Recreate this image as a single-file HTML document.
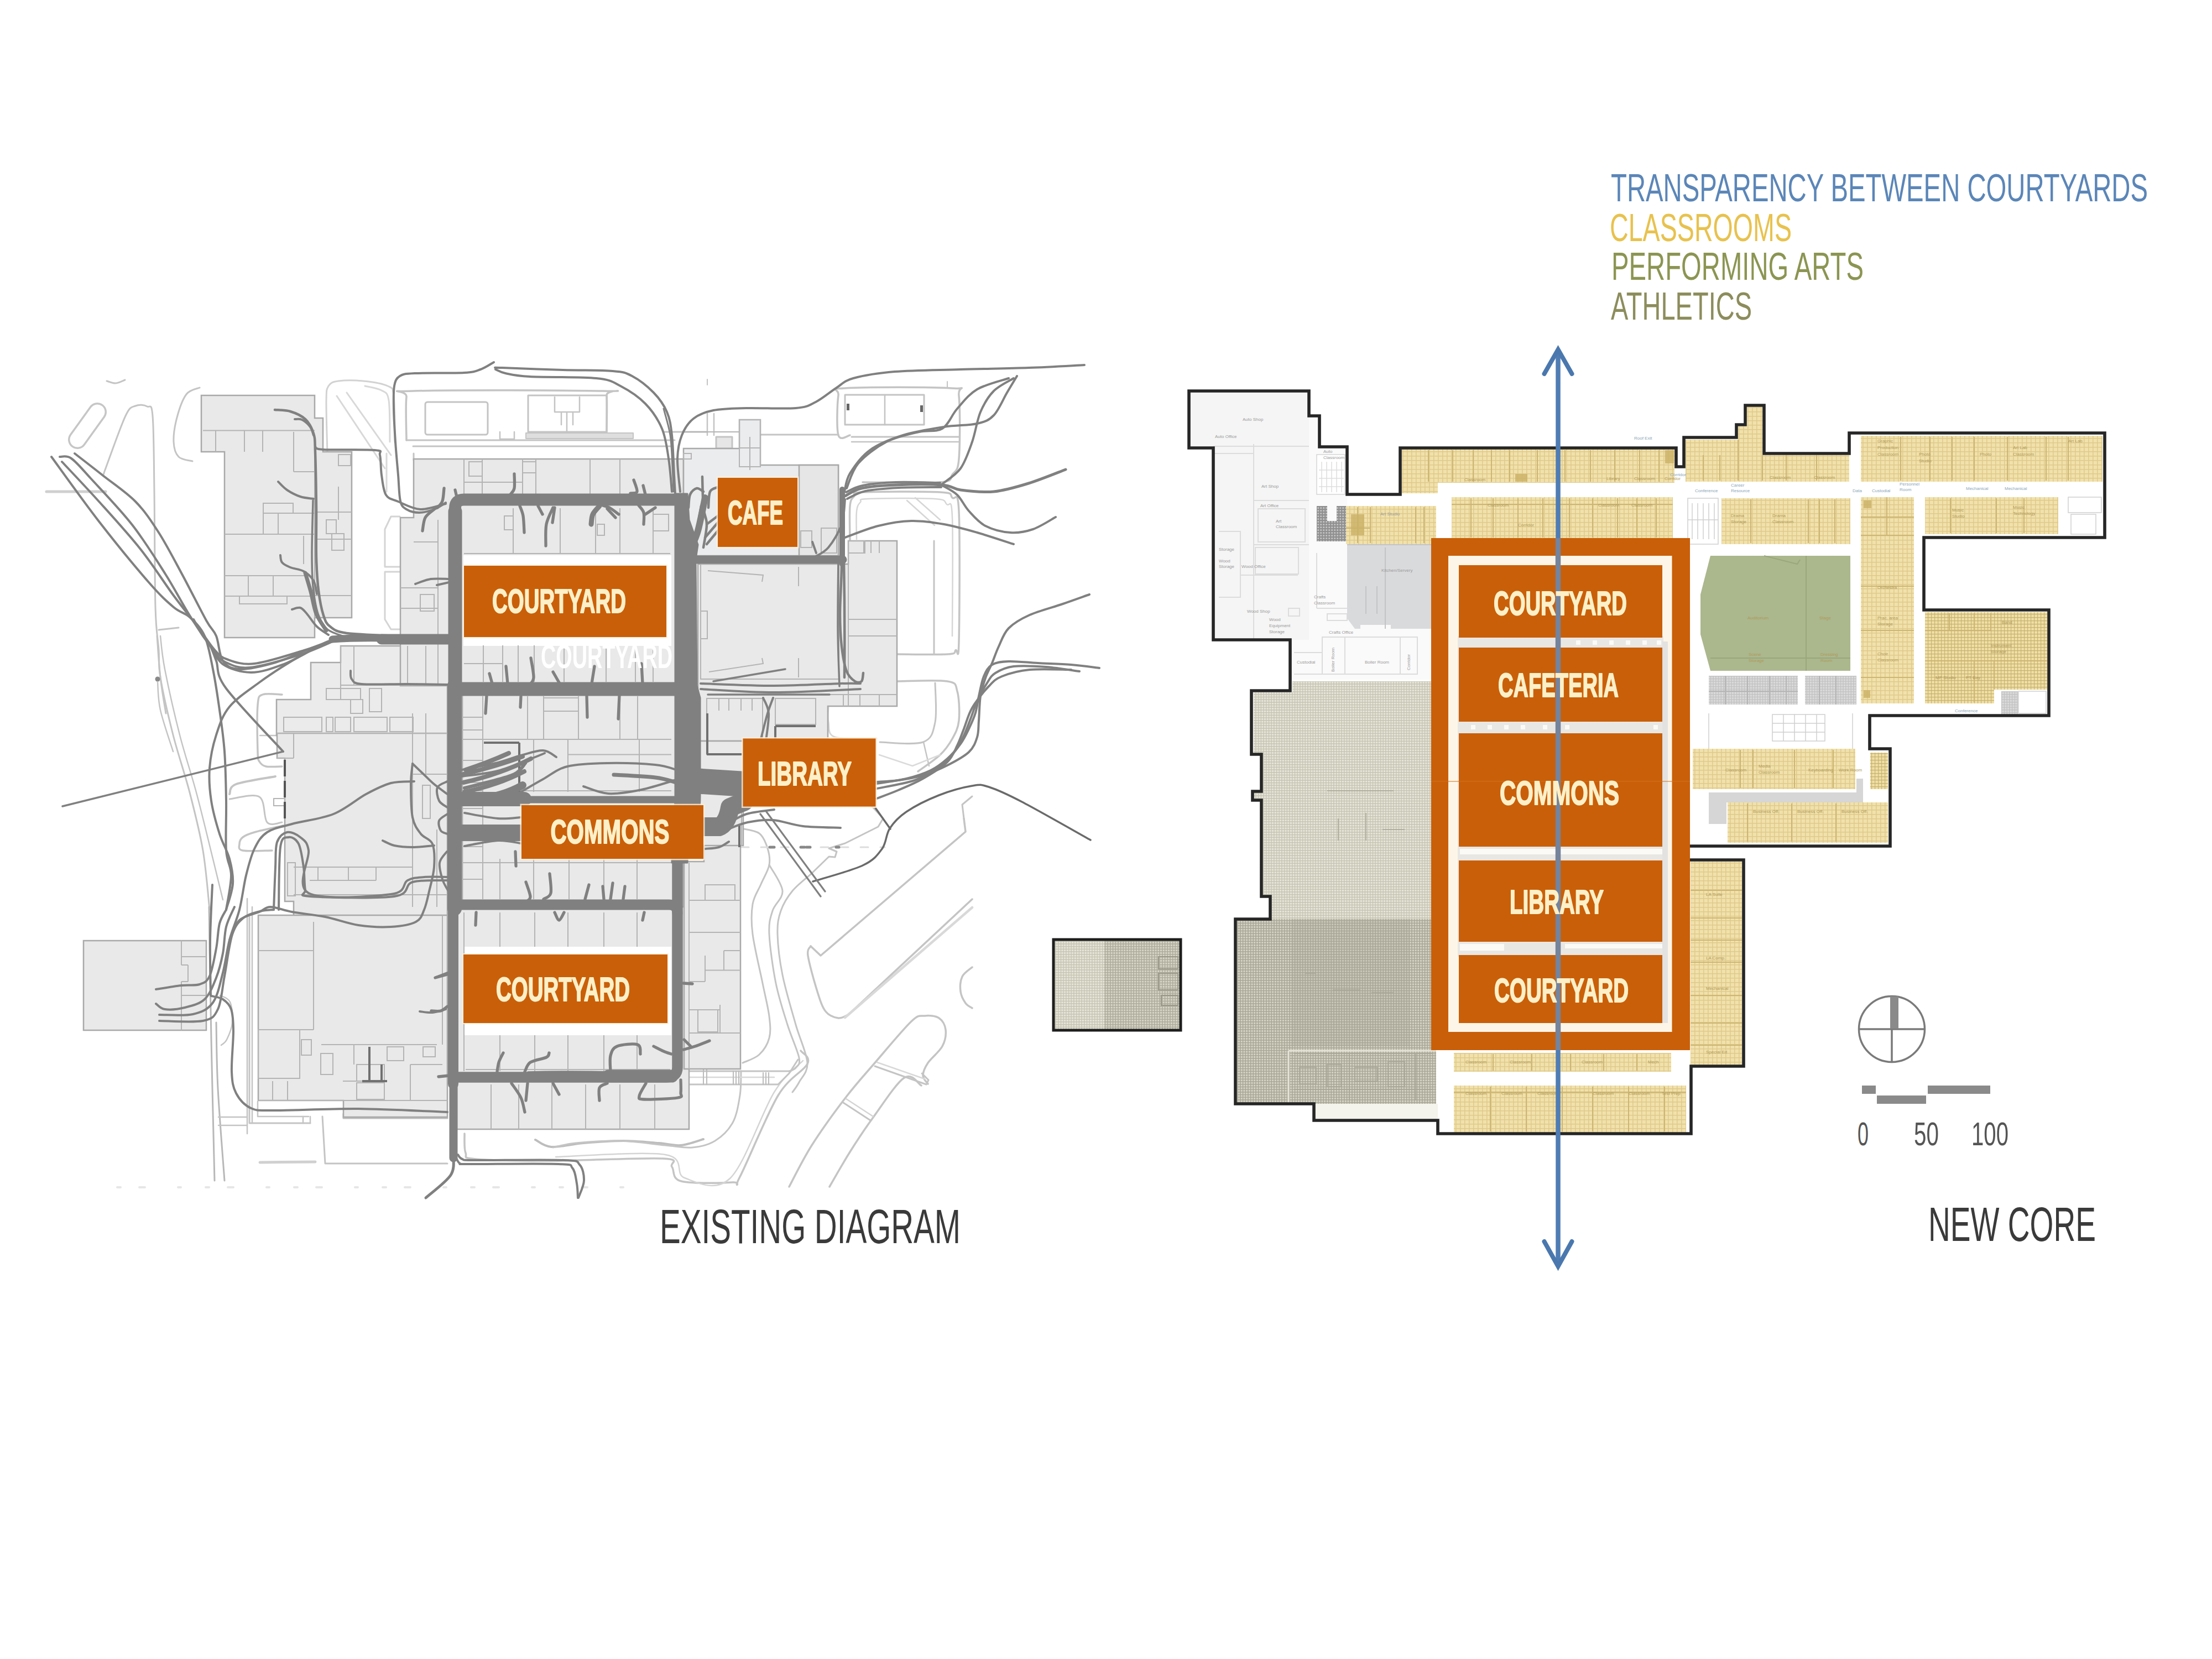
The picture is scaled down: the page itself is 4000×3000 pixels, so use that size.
<!DOCTYPE html>
<html lang="en">
<head>
<meta charset="utf-8">
<title>Existing Diagram / New Core</title>
<style>
html,body{margin:0;padding:0;background:#fff;}
body{width:4000px;height:3000px;overflow:hidden;font-family:"Liberation Sans",sans-serif;}
svg{display:block;position:absolute;left:0;top:0;}
text{font-family:"Liberation Sans",sans-serif;}
.lbl{font-weight:bold;fill:#fdf0c8;stroke:#fdf0c8;stroke-width:2;stroke-linejoin:round;}
.or{fill:#c95f09;}
.pth{fill:none;stroke:#808080;stroke-linecap:round;stroke-linejoin:round;}
.site{fill:none;stroke:#c4c4c4;stroke-width:3;stroke-linecap:round;stroke-linejoin:round;}
.bld{fill:#e9e9e9;stroke:#a9a9a9;stroke-width:2.5;stroke-linejoin:miter;}
.bl{fill:none;stroke:#b4b4b4;stroke-width:2;}
.yel{fill:url(#py);}
.out{fill:none;stroke:#262626;stroke-width:5.6;stroke-linejoin:miter;}
</style>
</head>
<body>
<svg width="4000" height="3000" viewBox="0 0 4000 3000">
<rect width="4000" height="3000" fill="#fff"/>

<defs>
<pattern id="py" width="8" height="8" patternUnits="userSpaceOnUse">
<rect width="8" height="8" fill="#f1e1ab"/>
<path d="M0 0.8H8M0.8 0V8" stroke="#dfca8c" stroke-width="1.5" fill="none"/>
</pattern>
<pattern id="py2" width="6" height="6" patternUnits="userSpaceOnUse">
<rect width="6" height="6" fill="#f0dea3"/>
<path d="M0 0.6H6M0.6 0V6" stroke="#c4b172" stroke-width="1.1" fill="none"/>
</pattern>
<pattern id="pb1" width="4.7" height="4.7" patternUnits="userSpaceOnUse">
<rect width="4.7" height="4.7" fill="#e8e7da"/>
<path d="M0 0.8H4.7M0.8 0V4.7" stroke="#c6c5b5" stroke-width="1.5" fill="none"/>
</pattern>
<pattern id="pb2" width="4.7" height="4.7" patternUnits="userSpaceOnUse">
<rect width="4.7" height="4.7" fill="#d8d6c6"/>
<path d="M0 0.9H4.7M0.9 0V4.7" stroke="#a9a797" stroke-width="1.7" fill="none"/>
</pattern>
<pattern id="pg" width="4.7" height="4.7" patternUnits="userSpaceOnUse">
<rect width="4.7" height="4.7" fill="#dcdcdc"/>
<path d="M0 0.8H4.7M0.8 0V4.7" stroke="#c2c2c2" stroke-width="1.4" fill="none"/>
</pattern>
<pattern id="pdk" width="5" height="5" patternUnits="userSpaceOnUse">
<rect width="5" height="5" fill="#c4c4c4"/>
<path d="M0 1.2H5M1.2 0V5" stroke="#8f8f8f" stroke-width="2.2" fill="none"/>
</pattern>
</defs>

<g id="left-site" class="site">
<path d="M140 795L176 745" stroke-width="34" stroke="#c6c6c6"/><path d="M140 795L176 745" stroke-width="27" stroke="#fff"/>
<path d="M188 856C188.5 854.5 184.5 864.3 191 847C197.5 829.7 218 770.8 227 752C236 733.2 238.5 736.8 245 734C251.5 731.2 260.8 732 266 735C271.2 738 273.8 726.3 276 752C278.2 777.7 278.2 831.3 279 889C279.8 946.7 279.7 1050.3 281 1098C282.3 1145.7 285.5 1153.8 287 1175C288.5 1196.2 285.7 1199.3 290 1225C294.3 1250.7 304.2 1294.3 313 1329C321.8 1363.7 334 1398.2 343 1433C352 1467.8 361 1502.7 367 1538C373 1573.3 377 1627.2 379 1645"/>
<path d="M284 1150C285 1162.5 287.3 1201.7 290 1225C292.7 1248.3 298.3 1279.2 300 1290"/>
<path d="M290 1150C291.3 1160 292.2 1180.2 298 1210C303.8 1239.8 315.5 1291.8 325 1329C334.5 1366.2 345 1395.7 355 1433C365 1470.3 377 1520.7 385 1553C393 1585.3 400 1614.7 403 1627" stroke-width="2.5"/>
<path d="M84 889L191 889" stroke-width="5" stroke="#cfcfcf"/>
<path d="M193 689C195.7 689.7 203.5 693.3 209 693C214.5 692.7 223.2 688 226 687"/>
<path d="M361 701C357 703 343.8 704 337 713C330.2 722 323.8 740.7 320 755C316.2 769.3 313.5 787.2 314 799C314.5 810.8 317.3 820.2 323 826C328.7 831.8 343.8 832.7 348 834"/>
<path d="M287 1139L323 1135"/>
<path d="M592 821C591.7 805 589.7 745.5 590 725C590.3 704.5 590.3 704 594 698C597.7 692 601.5 690.5 612 689C622.5 687.5 642.2 687.5 657 689C671.8 690.5 691.8 693.5 701 698C710.2 702.5 709.8 699 712 716C714.2 733 713.7 786 714 800" stroke-width="3" stroke="#d2d2d2"/>
<path d="M609 716L696 847" stroke-width="3" stroke="#d8d8d8"/>
<path d="M627 710L707 823" stroke-width="3" stroke="#d8d8d8"/>
<path d="M699 820L699 889" stroke-width="3" stroke="#d8d8d8"/>
<path d="M660 698C665 699.3 682.8 701.7 690 706C697.2 710.3 700.5 708.5 703 724C705.5 739.5 704.7 786.5 705 799" stroke-width="3" stroke="#d8d8d8"/>
<path d="M723 934L707 934L696 957L696 1025L723 1025" stroke-width="3" stroke="#d4d4d4"/>
<path d="M723 1034L696 1034L696 1120L707 1138L723 1138" stroke-width="3" stroke="#d4d4d4"/>
<path d="M735 796C735 783 733 732.8 735 718C737 703.2 687.8 708.8 747 707C806.2 705.2 1031.7 705.7 1090 707C1148.3 708.3 1095.8 702.7 1097 715C1098.2 727.3 1097 770 1097 781" stroke-width="3.5"/>
<rect x="769" y="727" width="113" height="59" rx="4"/>
<rect x="955" y="715" width="142" height="66"/>
<path d="M1003 718V745H1048V718M1015 745V768M1036 745V768M1025 745V781" stroke-width="2.5"/>
<path d="M735 796L1220 796" stroke-width="3"/>
<path d="M747 807L1215 807" stroke-width="3"/>
<path d="M748 820L748 832" stroke-width="3"/>
<rect x="951" y="783" width="194" height="10" fill="#dedede" stroke-width="2"/>
<path d="M904 781L904 794L930 794L930 781" stroke-width="2.5"/>
<path d="M1537 787C1533.5 787 1519.5 799 1516 787C1512.5 775 1514 729.2 1516 715C1518 700.8 1494 704.2 1528 702C1562 699.8 1685.7 699.7 1720 702C1754.3 704.3 1731.7 694.7 1734 716C1736.3 737.3 1736 806.3 1734 830C1732 853.7 1727.7 851 1722 858C1716.3 865 1727 869.7 1700 872C1673 874.3 1583.3 872 1560 872" stroke-width="3.5"/>
<rect x="1528" y="714" width="143" height="54"/>
<path d="M1600 714L1600 768" stroke-width="2.5"/>
<rect x="1531" y="730" width="5" height="12" fill="#666" stroke="none"/><rect x="1664" y="733" width="5" height="12" fill="#666" stroke="none"/>
<path d="M1375 786L1516 786" stroke-width="3"/>
<path d="M1200 781L1279 781" stroke-width="3"/>
<path d="M1279 748L1279 787" stroke-width="2.5"/>
<path d="M1291 748L1291 787" stroke-width="2.5"/>
<path d="M1540 790L1734 790" stroke-width="3"/>
<path d="M1540 799L1734 799" stroke-width="2.5"/>
<path d="M1713 690L1713 702" stroke-width="2"/>
<path d="M1279 686L1279 696" stroke-width="2"/>
<rect x="1295" y="790" width="29" height="21" fill="#e6e6e6"/>
<path d="M1537 978C1537 967.5 1535.7 928.5 1537 915C1538.3 901.5 1541.2 901.2 1545 897C1548.8 892.8 1534.2 891.2 1560 890C1585.8 888.8 1673 888.3 1700 890C1727 891.7 1716.3 894.2 1722 900C1727.7 905.8 1732 881.7 1734 925C1736 968.3 1735 1118.2 1734 1160C1733 1201.8 1731.3 1172.2 1728 1176C1724.7 1179.8 1731.7 1181.8 1714 1183C1696.3 1184.2 1637.3 1183 1622 1183" stroke-width="3.5"/>
<path d="M1549 975C1549 966.7 1547.8 936.2 1549 925C1550.2 913.8 1552.5 911.8 1556 908C1559.5 904.2 1547.7 903 1570 902C1592.3 901 1666.3 900.3 1690 902C1713.7 903.7 1706.7 906.5 1712 912C1717.3 917.5 1720.3 895.3 1722 935C1723.7 974.7 1722 1114.2 1722 1150" stroke-width="2.5" stroke="#d6d6d6"/>
<path d="M1689 978L1689 1183" stroke-width="3"/>
<path d="M1655 900L1700 940" stroke-width="2.5" stroke="#d6d6d6"/>
<path d="M1640 905L1690 950" stroke-width="2.5" stroke="#d6d6d6"/>
<path d="M1622 1232C1637.2 1232 1694.8 1229 1713 1232C1731.2 1235 1727.5 1238.2 1731 1250C1734.5 1261.8 1735.5 1288.7 1734 1303C1732.5 1317.3 1727.7 1325.7 1722 1336C1716.3 1346.3 1710.3 1355.2 1700 1365C1689.7 1374.8 1666.7 1390 1660 1395" stroke-width="3.5"/>
<path d="M1691 1235C1691 1246.8 1694.7 1288.2 1691 1306C1687.3 1323.8 1685.7 1336 1669 1342C1652.3 1348 1604 1342 1591 1342" stroke-width="3"/>
<path d="M1498 1277C1498 1281.8 1496 1296.7 1498 1306C1500 1315.3 1495.5 1328 1510 1333C1524.5 1338 1572.5 1335.5 1585 1336" stroke-width="3" stroke="#d6d6d6"/>
<path d="M1670 1342L1680 1385" stroke-width="2.5"/>
<path d="M1590 1365L1650 1385L1700 1365" stroke-width="2.5" stroke="#dadada"/>
<circle cx="285" cy="1228" r="4.5" fill="#888" stroke="none"/>
<path d="M285 1233C285.8 1241.5 285.3 1263 290 1284C294.7 1305 309.2 1346.5 313 1359" stroke-width="2.5"/>
<path d="M415 1436C417 1433 413.2 1423.3 427 1418C440.8 1412.7 486.2 1406.3 498 1404" stroke-width="4"/>
<path d="M415 1445C424 1444.3 457.7 1434 469 1441C480.3 1448 476.2 1479.3 483 1487C489.8 1494.7 505.5 1487 510 1487" stroke-width="3"/>
<path d="M512 1493C503.3 1495 472.2 1501.5 460 1505C447.8 1508.5 443.5 1510.5 439 1514C434.5 1517.5 433 1522 433 1526C433 1530 429.2 1536 439 1538C448.8 1540 483.2 1538 492 1538" stroke-width="3.5"/>
<path d="M510 1256C504.2 1256 482.3 1252.8 475 1256C467.7 1259.2 467.5 1257.8 466 1275C464.5 1292.2 465.5 1342 466 1359C466.5 1376 466.5 1372.5 469 1377C471.5 1381.5 474.2 1384.5 481 1386C487.8 1387.5 505.2 1386 510 1386" stroke-width="3.5"/>
<path d="M470 1330L500 1330" stroke-width="2.5"/>
<path d="M378 1640C378.7 1679.8 380.3 1796.5 382 1879C383.7 1961.5 387 2092.3 388 2135" stroke-width="3" stroke="#b8b8b8"/>
<path d="M391 1849C391.5 1868.8 391.5 1920.3 394 1968C396.5 2015.7 404 2107.2 406 2135" stroke-width="3" stroke="#b8b8b8"/>
<path d="M447 1625L447 2050" stroke-width="2.5"/>
<path d="M456 1640L456 2031" stroke-width="2.5"/>
<path d="M398 1800C401 1802 412.3 1803.7 416 1812C419.7 1820.3 421 1838.7 420 1850C419 1861.3 413.3 1873.3 410 1880C406.7 1886.7 401.7 1888.3 400 1890" stroke-width="2.5"/>
<path d="M451 1658L451 2031L561 2031" stroke-width="3"/>
<path d="M466 1992L466 2019L558 2019" stroke-width="2.5"/>
<path d="M548 2019L548 2031" stroke-width="2.5"/>
<path d="M561 2019L561 2031" stroke-width="2.5"/>
<path d="M583 2019L588 2104L809 2104" stroke-width="3"/>
<path d="M470 2102L570 2101" stroke-width="5" stroke="#d0d0d0"/>
<path d="M621 2014L621 2022L809 2022" stroke-width="3" stroke="#bbb"/>
<path d="M395 2020L447 2020" stroke-width="2.5"/>
<path d="M395 2035L447 2035" stroke-width="2.5"/>
<path d="M968 2061C972.8 2063.2 982.5 2073 997 2074C1011.5 2075 1033.3 2068.8 1055 2067C1076.7 2065.2 1104.3 2063 1127 2063C1149.7 2063 1173.7 2065.7 1191 2067C1208.3 2068.3 1217.5 2072.2 1231 2071C1244.5 2069.8 1265.2 2061.8 1272 2060" stroke-width="4" stroke="#bdbdbd"/>
<path d="M840 2050C840.3 2055.8 838.7 2077.3 842 2085C845.3 2092.7 833.7 2093.7 860 2096C886.3 2098.3 943.5 2099.2 1000 2099C1056.5 2098.8 1163.2 2093.2 1199 2095C1234.8 2096.8 1209.5 2103.2 1215 2110C1220.5 2116.8 1213.7 2131.3 1232 2136C1250.3 2140.7 1307.3 2139.3 1325 2138C1342.7 2136.7 1324.3 2154.2 1338 2128C1351.7 2101.8 1386.7 2015 1407 1981C1427.3 1947 1453.2 1937.5 1460 1924C1466.8 1910.5 1450 1904 1448 1900" stroke-width="3.5"/>
<path d="M1005 2092C1038 2091.3 1164.2 2081.7 1203 2088C1241.8 2094.3 1218.5 2122.8 1238 2130C1257.5 2137.2 1293 2156.8 1320 2131C1347 2105.2 1378 2010.5 1400 1975C1422 1939.5 1443.3 1927.5 1452 1918" stroke-width="2.5" stroke="#d4d4d4"/>
<path d="M1000 2075C1006.8 2073.7 1020.7 2069 1041 2067C1061.3 2065 1095 2062.3 1122 2063C1149 2063.7 1181.3 2069 1203 2071C1224.7 2073 1237 2076.3 1252 2075C1267 2073.7 1280.8 2070.5 1293 2063C1305.2 2055.5 1317.5 2043.7 1325 2030C1332.5 2016.3 1335.5 1996.5 1338 1981C1340.5 1965.5 1339.7 1944.3 1340 1937" stroke-width="3"/>
<path d="M1244 1961L1407 1961L1427 1941L1443 1916" stroke-width="3"/>
<path d="M1246 1937L1427 1937" stroke-width="3"/>
<path d="M1246 1948L1400 1948" stroke-width="2.5" stroke="#d8d8d8"/>
<path d="M1326 1937V1961M1331 1937V1961M1336 1937V1961M1380 1940V1961M1385 1940V1961M1390 1940V1961M1272 1925V1961M1278 1925V1961" stroke-width="2" stroke="#bbb"/>
<path d="M1340 1498C1345.5 1499.5 1365 1501 1373 1507C1381 1513 1385 1524.5 1388 1534C1391 1543.5 1393 1553.2 1391 1564C1389 1574.8 1381 1587.2 1376 1599C1371 1610.8 1363.5 1620 1361 1635C1358.5 1650 1358 1665.2 1361 1689C1364 1712.8 1374 1753.2 1379 1778C1384 1802.8 1389 1821.5 1391 1838C1393 1854.5 1394 1865.5 1391 1877C1388 1888.5 1381 1899.5 1373 1907C1365 1914.5 1348 1919.5 1343 1922" stroke-width="3"/>
<path d="M1391 1564C1395 1571.8 1414 1597.2 1415 1611C1416 1624.8 1401 1634 1397 1647C1393 1660 1390 1667.2 1391 1689C1392 1710.8 1397.5 1750.7 1403 1778C1408.5 1805.3 1417 1830.5 1424 1853C1431 1875.5 1442.5 1900 1445 1913C1447.5 1926 1442 1927 1439 1931C1436 1935 1429 1936 1427 1937" stroke-width="3"/>
<path d="M1466 1581C1460.5 1586 1442 1600 1433 1611C1424 1622 1416.5 1634 1412 1647C1407.5 1660 1405.5 1669.7 1406 1689C1406.5 1708.3 1409.5 1735.7 1415 1763C1420.5 1790.3 1431.5 1826.5 1439 1853C1446.5 1879.5 1459 1904.7 1460 1922C1461 1939.3 1449.5 1948.2 1445 1957C1440.5 1965.8 1435 1972 1433 1975" stroke-width="3"/>
<path d="M1466 1581L1499 1549L1510 1550L1513 1540L1499 1534L1528 1525L1588 1495L1597 1480L1560 1440" stroke-width="3"/>
<path d="M1743 1480L1746 1504L1484 1728L1466 1711" stroke-width="3.5"/>
<path d="M1466 1711C1465.2 1713.8 1459 1714.3 1461 1728C1463 1741.7 1472.7 1776.2 1478 1793C1483.3 1809.8 1486.7 1821 1493 1829C1499.3 1837 1509.2 1840 1516 1841C1522.8 1842 1531 1836 1534 1835" stroke-width="3.5"/>
<path d="M1534 1835L1758 1626" stroke-width="3.5"/>
<path d="M1528 1840L1758 1641" stroke-width="4.5" stroke="#d9d9d9"/>
<path d="M1743 1480L1740 1455L1758 1440" stroke-width="3"/>
<path d="M1758 1749C1755 1751.8 1743.5 1758.7 1740 1766C1736.5 1773.3 1736 1785 1737 1793C1738 1801 1742.5 1809 1746 1814C1749.5 1819 1756 1821.5 1758 1823" stroke-width="3.5"/>
<path d="M1427 2146C1433.8 2133.5 1451 2097.8 1468 2071C1485 2044.2 1510 2009.8 1529 1985C1548 1960.2 1562.2 1945 1582 1922C1601.8 1899 1633 1861.2 1648 1847C1663 1832.8 1663.7 1838 1672 1837C1680.3 1836 1691.7 1836.8 1698 1841C1704.3 1845.2 1709 1853.5 1710 1862C1711 1870.5 1709.3 1882 1704 1892C1698.7 1902 1683.8 1913.2 1678 1922C1672.2 1930.8 1669 1938.7 1669 1945C1669 1951.3 1676.5 1957.5 1678 1960" stroke-width="3.5"/>
<path d="M1500 2146C1506.2 2135.5 1524 2103.7 1537 2083C1550 2062.3 1561.7 2044.3 1578 2022C1594.3 1999.7 1620.3 1958.8 1635 1949C1649.7 1939.2 1660.8 1960.7 1666 1963" stroke-width="3.5"/>
<path d="M1582 1928L1675 1961L1679 1953L1667 1941" stroke-width="3"/>
<path d="M1586 1921L1672 1951" stroke-width="2.5" stroke="#d8d8d8"/>
<path d="M1525 1994L1574 2026" stroke-width="3"/>
<path d="M1530 1987L1579 2019" stroke-width="2.5" stroke="#d4d4d4"/>
<path d="M1590 1232L1610 1232" stroke-width="3"/>
<path d="M1340 1532H1600" stroke="#ddd" stroke-width="3" stroke-dasharray="14 22"/>
<path d="M1392 1532h8M1448 1532h7M1458 1532h7M1512 1532h5" stroke="#888" stroke-width="5"/>
<path d="M212 2147H1140" stroke="#e6e6e6" stroke-width="4" stroke-dasharray="6 34 10 60 5 45"/>
</g>

<g id="left-buildings">
<g class="bld">
<path d="M364 715H569V756H584V817H636V1117H569V1153H406V817H364Z"/>
<rect x="151" y="1701" width="222" height="162"/>
<path d="M500 1265H562V1198H616V1168H809V1330H500Z" fill="#ebebeb"/>
<path d="M748 830H1236V1640H836V1240H724V936H748Z"/>
<path d="M501 1326H809V1668H531V1630H515V1371H501Z"/>
<path d="M467 1655H809V2020H621V1990H467Z"/>
<rect x="826" y="1640" width="420" height="402"/>
<path d="M1237 1558H1273V1480H1339V1933H1237Z"/>
<path d="M1236 811H1337V759H1375V841H1516V1005H1236Z" fill="#ebecee"/>
<rect x="1445" y="841" width="71" height="164" fill="#e6e6e6"/>
<path d="M1262 1020H1534V978H1622V1277H1497V1340H1262Z"/>
<path d="M1262 1340H1497V1336H1344V1529H1262Z"/>
</g>
<rect x="838" y="1004" width="376" height="164" fill="#fff"/>
<rect x="838" y="1712" width="376" height="160" fill="#fff"/>
<rect x="1380" y="1336" width="100" height="20" fill="#f4f4f4"/>
<path class="bl" d="M367 778.5H569M390 778.5V817M442 778.5V817M475 778.5V817M406 966H569M476 910h54v18h-54zM476 928H569M476 910V966M503 928V966M406 1041H552M449 1041V1078M494 1041V1078M406 1078H569M433 1078h86v14h-86zM569 817V1117M569 926H636M569 975H636M569 1077H636M531 781V853M531 853H569M549 969V1020M590 940h18v25h-18zM600 965h22v30h-22zM612 880V940M612 822h22v20h-22zM328 1701V1745M328 1745H340M340 1745V1775M328 1775H340M328 1775V1863M328 1730H373M328 1800H373M839 830V895M872 830V895M945 830V895M969 830V895M1067 830V895M1121 830V895M848 835h24v26h-24zM945 835h24v20h-24zM839 872H945M928 919V1002M1013 919V1002M1077 919V1002M1121 919V1002M1181 919V1002M839 1001H1212M912 933h16v25h-16zM1080 948h13v20h-13zM1181 930h28v30h-28zM792 940V1240M724 1063H792M724 1100H792M748 980H792M760 1075h25v30h-25zM874 1167V1233M909 1167V1233M937 1167V1233M966 1167V1233M1020 1167V1233M1096 1167V1233M1149 1167V1233M1181 1167V1233M839 1200H909M873 1259V1337M954 1259V1337M983 1259V1337M1046 1259V1337M1121 1259V1337M1153 1259V1337M841 1337H1214M983 1262h63v24h-63zM965 1337V1432M1027 1337V1432M1156 1337V1432M1027 1364.5H1214M942 1430H1214M904 1553V1626M965 1553V1626M1029 1553V1626M1092 1553V1626M1152 1553V1626M841 1560H1214M836 1297H873M836 1320H873M836 1337H873M836 1375H873M836 1415H873M836 1430H873M836 1462H873M836 1531H873M836 1560H873M836 1590H873M873 1259V1626M904 1650V1712M904 1872V1937M967 1650V1712M967 1872V1937M1027 1650V1712M1027 1872V1937M1092 1650V1712M1092 1872V1937M1152 1650V1712M1152 1872V1937M842 1934H1212M839 1650V1937M888 1961V2042M938 1961V2042M998 1961V2042M1059 1961V2042M1121 1961V2042M1184 1961V2042M501 1326H809M616 1168V1265M616 1239H809M640 1168V1239M737 1168V1239M770 1168V1239M590 1245h62v20h-62zM634 1265h22v25h-22zM668 1245h22v42h-22zM513 1297h69v26h-69zM590 1297h12v26h-12zM606 1297h28v26h-28zM640 1297h60v26h-60zM705 1297h42v26h-42zM746 1290V1640M531 1568H746M531 1618H809M575 1568V1592M630 1568V1592M680 1568V1592M560 1592H680M531 1326V1371M501 1371H531M495 1444h20v13h-20zM770 1290V1400M746 1400H809M764 1420h14v60h-14zM790 1500V1640M520 1560h14v60h-14zM567 1667V1862M467 1719H567M467 1862H567M467 1862h75v88h-75zM581 1889H790M800 1655V1889M493 1955V1990M520 1955V1990M467 1950H542M545 1880h18v28h-18zM580 1905h22v38h-22zM645 1925h50v30h-50zM645 1958h50v30h-50zM700 1893h30v25h-30zM765 1893h22v18h-22zM620 1955H700M640 1889V1925M742 1925V1990M742 1925H800M467 1990H809M1245 1628H1339M1275 1600h54v28h-54zM1245 1686H1339M1275 1754.5H1339M1309 1719V1754.5M1309 1719H1339M1245 1775H1275M1275 1728V1775M1245 1826H1302M1302 1817V1868M1245 1868H1339M1262 1826h36v40h-36zM1246 1560V1933M1337 759h38v85h-38zM1356 790V850M1337 810H1375M1236 781H1337M1236 820h14v10h-14zM1448 960h20v30h-20zM1485 955h28v45h-28zM1267 1020h250v208h-250zM1534 978V1277M1534 1120H1622M1534 1150H1622M1534 978h30v22h-30zM1562 978V1000M1575 978V1000M1590 978V1000M1497 1256H1622M1525 1256V1277M1555 1256V1277M1590 1256V1277M1280 1032L1380 1040L1378 1052M1282 1215L1380 1200L1378 1190M1444 1025V1060M1444 1190V1225M1267 1105h12v50h-12zM1278 1263h101v101h-101zM1402 1263h73v47h-73zM1300 1263V1285M1318 1263V1285M1340 1263V1285M1360 1263V1285M1341 1458V1529"/>
<path d="M875 1343H939M939 1343V1432M668 1893V1955M690 1925V1955M655 1955H700M1337 1492V1532M1278 1364H1341M1279 1290V1364M1402 1313H1475M1402 1313V1336" fill="none" stroke="#707070" stroke-width="4"/>
<path d="M515 1374V1487" fill="none" stroke="#555" stroke-width="4" stroke-dasharray="30 8"/>
</g>

<g id="left-paths" class="pth">
<g id="thick">
<!-- upper loop -->
<path d="M823 1246V919Q823 903.5 839 903.5H1232" stroke-width="22"/>
<path d="M823 1246V925" stroke-width="25"/>
<path d="M1221 893H1243L1246 940L1262 985L1258 1012L1260 1240L1266 1262V1440C1266 1500 1243 1500 1243 1560H1215C1215 1500 1221 1500 1221 1440Z" fill="#808080" stroke="#808080" stroke-width="3"/>
<path d="M1225 1553V1930Q1225 1948 1205 1948H822" stroke-width="19.5"/><path d="M1100 1946H1215" stroke-width="23"/><path d="M955 1939.5Q1030 1937.5 1110 1939.5" stroke-width="4.5"/>
<path d="M822 1240V1643" stroke-width="26"/>
<path d="M819.5 1640V1960" stroke-width="19"/><path d="M820 1950V2094" stroke-width="15"/>
<path d="M822 1246H1242" stroke-width="25"/>
<path d="M822 1636H1210Q1225 1636 1225 1652" stroke-width="19"/>
<path d="M830 1445H948" stroke-width="26"/>
<path d="M940 1446H1235" stroke-width="13"/>
<path d="M830 1506H948" stroke-width="30"/>
<path d="M601 1156Q640 1153 700 1154H814" stroke-width="13"/>
<path d="M690 1156H814" stroke-width="19"/>
<path d="M1258 1012H1524" stroke-width="15"/>
<path d="M1255 1412L1348 1418" stroke-width="46"/>
<path d="M1272 1495H1300Q1315 1490 1320 1460L1345 1450" stroke-width="34"/>
<path d="M1523 885V1020" stroke-width="10"/><path d="M1526 1015Q1528 1120 1527 1225" stroke-width="4.5"/>
<path d="M838 1400Q900 1385 945 1368M838 1415Q905 1400 960 1372M840 1432Q900 1420 948 1395M842 1392Q880 1380 920 1362" stroke-width="8"/>
<path d="M860 1446Q910 1440 945 1420" stroke-width="14"/>
</g>
</g>

<g id="left-thin" class="pth" stroke="#777" stroke-width="4">
<path d="M497 741C501.7 741.5 515.8 741.2 525 744C534.2 746.8 545 751.3 552 758C559 764.7 564 774.2 567 784C570 793.8 569.2 794.5 570 817C570.8 839.5 571.7 887.2 572 919C572.3 950.8 571.3 983.2 572 1008C572.7 1032.8 573.8 1050.5 576 1068C578.2 1085.5 581.5 1102.2 585 1113C588.5 1123.8 590 1127.7 597 1133C604 1138.3 606.5 1142.2 627 1145C647.5 1147.8 704.5 1149.2 720 1150" stroke-width="4.5"/>
<path d="M533 758C535.2 758.2 541.3 756.7 546 759C550.7 761.3 557.5 767.3 561 772C564.5 776.7 566 784.5 567 787"/>
<path d="M503 871C505.7 873.5 512.3 881.5 519 886C525.7 890.5 535 895.3 543 898C551 900.7 563 901.3 567 902"/>
<path d="M566 905C565.7 920.8 564 974.2 564 1000C564 1025.8 564.2 1041.7 566 1060C567.8 1078.3 570.7 1097 575 1110C579.3 1123 583.7 1131 592 1138C600.3 1145 619.5 1149.7 625 1152" stroke-width="3.5"/>
<path d="M507 1004C507.5 1006.2 507 1013.3 510 1017C513 1020.7 518.5 1023.3 525 1026C531.5 1028.7 542 1029 549 1033C556 1037 563 1043.2 567 1050C571 1056.8 572 1070 573 1074"/>
<path d="M528 1102C530.5 1101.5 538.5 1097.7 543 1099C547.5 1100.3 550 1104.3 555 1110C560 1115.7 566.5 1126.7 573 1133C579.5 1139.3 590.5 1145.5 594 1148"/>
<path d="M552 1036C553.7 1041.7 558.7 1057.7 562 1070C565.3 1082.3 567.3 1098.3 572 1110C576.7 1121.7 587 1135 590 1140" stroke-width="7"/>
<path d="M570 808C572.5 808.8 567 812 585 813C603 814 661 812.3 678 814C695 815.7 685 815.5 687 823C689 830.5 688.2 847 690 859C691.8 871 693 887 698 895C703 903 709.7 902.7 720 907C730.3 911.3 745.7 920.3 760 921C774.3 921.7 798.3 912.7 806 911"/>
<path d="M893 655C889 657.2 878 664.8 869 668C860 671.2 858.8 672.8 839 674C819.2 675.2 769.3 674 750 675C730.7 676 729.2 676.2 723 680C716.8 683.8 714.8 688.2 713 698C711.2 707.8 711.7 722.2 712 739C712.3 755.8 713.7 779 715 799C716.3 819 718.5 841.2 720 859C721.5 876.8 721.5 895.7 724 906C726.5 916.3 729.3 917.5 735 921C740.7 924.5 749.7 927 758 927C766.3 927 777 924 785 921C793 918 802.5 911 806 909"/>
<path d="M93 826C107.3 845.5 149.7 905.2 179 943C208.3 980.8 246.5 1027.2 269 1053C291.5 1078.8 301.7 1087.5 314 1098C326.3 1108.5 333.7 1107.3 343 1116C352.3 1124.7 363 1134.3 370 1150C377 1165.7 380.5 1187.7 385 1210C389.5 1232.3 393.5 1259.2 397 1284C400.5 1308.8 404 1331.7 406 1359C408 1386.3 408.5 1418.2 409 1448C409.5 1477.8 407.5 1515.5 409 1538C410.5 1560.5 418 1565.2 418 1583C418 1600.8 410.5 1634.7 409 1645"/>
<path d="M108 826C111.5 826.5 119.7 822.5 129 829C138.3 835.5 145.7 845 164 865C182.3 885 216.5 920.2 239 949C261.5 977.8 281.7 1010.7 299 1038C316.3 1065.3 328.7 1090.2 343 1113C357.3 1135.8 374.3 1161 385 1175C395.7 1189 395.8 1191.7 407 1197C418.2 1202.3 429.5 1209.2 452 1207C474.5 1204.8 516.3 1192.2 542 1184C567.7 1175.8 595.3 1162.3 606 1158"/>
<path d="M112 835C123.2 847 155.3 880.7 179 907C202.7 933.3 231.5 964.7 254 993C276.5 1021.3 296.7 1053.5 314 1077C331.3 1100.5 345.7 1117.7 358 1134C370.3 1150.3 379.3 1165.3 388 1175C396.7 1184.7 398 1187.8 410 1192C422 1196.2 436.7 1202.7 460 1200C483.3 1197.3 524.7 1183.7 550 1176C575.3 1168.3 601.7 1157.7 612 1154"/>
<path d="M135 820C143.3 826.5 166.7 844.5 185 859C203.3 873.5 228 889.7 245 907C262 924.3 273 941.2 287 963C301 984.8 314.7 1011.5 329 1038C343.3 1064.5 362.7 1103.3 373 1122C383.3 1140.7 386 1137.8 391 1150C396 1162.2 396 1185 403 1195C410 1205 417.2 1209.5 433 1210C448.8 1210.5 477.2 1204 498 1198C518.8 1192 541 1180.7 558 1174C575 1167.3 593 1160.7 600 1158"/>
<path d="M379 1165C383 1171 390.5 1192.5 403 1201C415.5 1209.5 435.7 1216 454 1216C472.3 1216 493.2 1208.5 513 1201C532.8 1193.5 556.5 1178.5 573 1171C589.5 1163.5 605.5 1158.5 612 1156"/>
<path d="M600 1160C598 1160.3 600 1156.2 588 1162C576 1167.8 547.8 1183 528 1195C508.2 1207 487.8 1220.2 469 1234C450.2 1247.8 428 1262.2 415 1278C402 1293.8 397 1310.5 391 1329C385 1347.5 380.5 1369.2 379 1389C377.5 1408.8 379 1428.2 382 1448C385 1467.8 391.5 1490.5 397 1508C402.5 1525.5 411 1538 415 1553C419 1568 422 1582.7 421 1598C420 1613.3 411 1637.2 409 1645"/>
<path d="M512 1359C494.8 1340 429.2 1272.3 409 1245C388.8 1217.7 396 1208.3 391 1195C386 1181.7 383 1172.5 379 1165C375 1157.5 371.8 1157.5 367 1150C362.2 1142.5 352.8 1125 350 1120"/>
<path d="M113 1458L512 1359" stroke-width="3.5"/>
<path d="M634 1213C634.3 1215.5 632.7 1224 636 1228C639.3 1232 637.2 1235.5 654 1237C670.8 1238.5 711.2 1236.8 737 1237C762.8 1237.2 797 1237.8 809 1238"/>
<path d="M751 1056C755.7 1054.5 768.8 1048.5 779 1047C789.2 1045.5 806.5 1047 812 1047"/>
<path d="M790 1058L812 1053"/>
<path d="M896 665C898 665 887.7 664.3 908 665C928.3 665.7 984.7 668 1018 669C1051.3 670 1087.2 669.2 1108 671C1128.8 672.8 1130.7 673.5 1143 680C1155.3 686.5 1171.5 699.2 1182 710C1192.5 720.8 1200.5 732.2 1206 745C1211.5 757.8 1212.8 768 1215 787C1217.2 806 1218 841.2 1219 859C1220 876.8 1220.7 888.2 1221 894"/>
<path d="M896 668C899 669.2 903.7 672.8 914 675C924.3 677.2 930.7 679.5 958 681C985.3 682.5 1050.7 681.2 1078 684C1105.3 686.8 1107.2 690.3 1122 698C1136.8 705.7 1154.5 717.2 1167 730C1179.5 742.8 1190 758.5 1197 775C1204 791.5 1206 810 1209 829C1212 848 1214 879 1215 889"/>
<path d="M1200 739C1202 747 1209.3 769.5 1212 787C1214.7 804.5 1215 827 1216 844C1217 861 1217.7 881.5 1218 889" stroke-width="3"/>
<path d="M1230 889C1229.2 879 1224.5 846 1225 829C1225.5 812 1228.2 799 1233 787C1237.8 775 1244.5 764.5 1254 757C1263.5 749.5 1274.2 745.2 1290 742C1305.8 738.8 1324.2 738.7 1349 738C1373.8 737.3 1418 739.8 1439 738C1460 736.2 1462.7 733.2 1475 727C1487.3 720.8 1501.7 708.2 1513 701C1524.3 693.8 1525.5 688.8 1543 684C1560.5 679.2 1585.7 674.7 1618 672C1650.3 669.3 1696.7 669.2 1737 668C1777.3 666.8 1822.7 666.3 1860 665C1897.3 663.7 1944.2 660.8 1961 660"/>
<path d="M803 883C802.5 886.8 802 900.2 800 906C798 911.8 792.5 916 791 918" stroke-width="5.3"/>
<path d="M823 886L827 903" stroke-width="5.3"/>
<path d="M930 857C930 861.3 931.2 876.8 930 883C928.8 889.2 924.2 892.2 923 894" stroke-width="5.3"/>
<path d="M1146 868C1147 871.5 1153 885 1152 889C1151 893 1142 891.5 1140 892" stroke-width="5.3"/>
<path d="M1163 878L1167 894" stroke-width="5.3"/>
<path d="M764 960C764.8 956 765.5 942.5 769 936C772.5 929.5 782.3 923.5 785 921" stroke-width="5.3"/>
<path d="M948 963C947.7 958 947.3 941 946 933C944.7 925 941 918 940 915" stroke-width="5.3"/>
<path d="M981 930L973 915" stroke-width="5.3"/>
<path d="M987 987C987.2 980.5 985.8 959.5 988 948C990.2 936.5 998 923 1000 918" stroke-width="5.3"/>
<path d="M999 945L1003 918" stroke-width="5.3"/>
<path d="M1119 930C1116.2 928 1106.8 920.7 1102 918C1097.2 915.3 1092 914.7 1090 914" stroke-width="5.3"/>
<path d="M1113 936L1098 920" stroke-width="5.3"/>
<path d="M1164 948C1164 944.5 1165.5 932.7 1164 927C1162.5 921.3 1156.5 916.2 1155 914" stroke-width="5.3"/>
<path d="M1167 930L1185 918" stroke-width="5.3"/>
<path d="M942 1259L941 1279" stroke-width="5.3"/>
<path d="M1061 1259L1062 1297" stroke-width="5.3"/>
<path d="M951 1595C952.3 1599.3 958.5 1615.3 959 1621C959.5 1626.7 954.8 1627.7 954 1629" stroke-width="5.3"/>
<path d="M994 1580C994.3 1585.8 997.8 1607.3 996 1615C994.2 1622.7 985.2 1624.2 983 1626" stroke-width="5.3"/>
<path d="M1065 1600L1058 1626" stroke-width="5.3"/>
<path d="M1090 1603L1092 1626" stroke-width="5.3"/>
<path d="M1108 1597L1104 1626" stroke-width="5.3"/>
<path d="M1130 1603L1127 1626" stroke-width="5.3"/>
<path d="M932 1540L933 1566" stroke-width="5.3"/>
<path d="M1003 1650C1004.3 1652.3 1008.2 1664 1011 1664C1013.8 1664 1018.5 1652.3 1020 1650" stroke-width="5.3"/>
<path d="M1165 1650L1162 1664" stroke-width="5.3"/>
<path d="M861 1650L860 1673" stroke-width="5.3"/>
<path d="M910 1904C908.7 1906.8 903.8 1915.3 902 1921C900.2 1926.7 899.5 1935.2 899 1938" stroke-width="5.3"/>
<path d="M993 1904C992.2 1905.3 993.7 1909.2 988 1912C982.3 1914.8 965.5 1916.7 959 1921C952.5 1925.3 950.7 1935.2 949 1938" stroke-width="5.3"/>
<path d="M1104 1938C1104 1933.2 1102 1916.7 1104 1909C1106 1901.3 1107.8 1895.3 1116 1892C1124.2 1888.7 1146 1886.7 1153 1889C1160 1891.3 1157.2 1903.2 1158 1906" stroke-width="5.3"/>
<path d="M1182 1892C1185 1893.5 1194.7 1898.7 1200 1901C1205.3 1903.3 1211.7 1905.2 1214 1906" stroke-width="5.3"/>
<path d="M925 1959C927.8 1963.3 938 1976.3 942 1985C946 1993.7 947.8 2006.7 949 2011" stroke-width="5.3"/>
<path d="M954 1959L951 1990" stroke-width="5.3"/>
<path d="M1000 1959L1011 1979" stroke-width="5.3"/>
<path d="M1084 1990C1084 1986.2 1081.7 1972.2 1084 1967C1086.3 1961.8 1095.7 1960.3 1098 1959" stroke-width="5.3"/>
<path d="M1168 1959C1166 1962.8 1156.5 1977.2 1156 1982C1155.5 1986.8 1153.3 1987.5 1165 1988C1176.7 1988.5 1215 1987 1226 1985C1237 1983 1230.2 1981.3 1231 1976C1231.8 1970.7 1231 1956.8 1231 1953" stroke-width="5.3"/>
<path d="M1236 1898C1239.5 1897 1249.2 1894.7 1257 1892C1264.8 1889.3 1278.7 1883.7 1283 1882" stroke-width="5.3"/>
<path d="M1237 1880L1249 1892" stroke-width="5.3"/>
<path d="M1236 1778L1252 1779" stroke-width="5.3"/>
<path d="M787 1768L809 1762" stroke-width="5.3"/>
<path d="M780 1828C782.8 1828 792.2 1829.3 797 1828C801.8 1826.7 807 1821.3 809 1820" stroke-width="5.3"/>
<path d="M793 1947L812 1945" stroke-width="5.3"/>
<path d="M885 1218L890 1236" stroke-width="5.3"/>
<path d="M915 1205L918 1236" stroke-width="5.3"/>
<path d="M960 1190C960.8 1195.8 965.3 1217 965 1225C964.7 1233 959.2 1235.8 958 1238" stroke-width="5.3"/>
<path d="M1000 1215L1012 1236" stroke-width="5.3"/>
<path d="M1075 1205L1070 1236" stroke-width="5.3"/>
<path d="M1160 1200L1162 1236" stroke-width="5.3"/>
<path d="M880 1258L878 1290" stroke-width="5.3"/>
<path d="M1120 1258L1118 1300" stroke-width="5.3"/>
<path d="M1069 948C1069.5 945 1069.5 935.5 1072 930C1074.5 924.5 1082 917.5 1084 915" stroke-width="9"/>
<path d="M1245 918C1245.5 914 1245.5 899.8 1248 894C1250.5 888.2 1256 883.8 1260 883C1264 882.2 1270 888 1272 889" stroke-width="4.5"/>
<path d="M1270 862C1270.3 871.3 1270.7 903.7 1272 918C1273.3 932.3 1278 936 1278 948C1278 960 1273 983 1272 990" stroke-width="4.5"/>
<path d="M1281 918C1281.5 913.2 1281.2 895.2 1284 889C1286.8 882.8 1295.7 882.3 1298 881" stroke-width="4.5"/>
<path d="M1298 933L1278 948" stroke-width="4.5"/>
<path d="M1298 945L1275 972" stroke-width="4.5"/>
<path d="M1298 960L1278 984" stroke-width="4.5"/>
<path d="M1256 1000C1257 991.7 1260 964.2 1262 950C1264 935.8 1267 920.8 1268 915" stroke-width="4.5"/>
<path d="M1250 990C1252 985 1257.8 975 1262 960C1266.2 945 1272.8 910 1275 900" stroke-width="12"/>
<path d="M1527 889C1528.7 883.5 1529.3 868.5 1537 856C1544.7 843.5 1557 825.5 1573 814C1589 802.5 1610.7 794 1633 787C1655.3 780 1684.7 775.5 1707 772C1729.3 768.5 1752 769.5 1767 766C1782 762.5 1788 760.3 1797 751C1806 741.7 1814 721.8 1821 710C1828 698.2 1836 685 1839 680"/>
<path d="M1531 883C1534.5 875.5 1540 852 1552 838C1564 824 1584.7 808.5 1603 799C1621.3 789.5 1645.2 785 1662 781C1678.8 777 1692.5 782 1704 775C1715.5 768 1720.5 750.8 1731 739C1741.5 727.2 1751.5 713.2 1767 704C1782.5 694.8 1814.5 687.3 1824 684"/>
<path d="M1528 897C1533 894.7 1543 886.3 1558 883C1573 879.7 1593.7 878 1618 877C1642.3 876 1684.2 875.5 1704 877C1723.8 878.5 1721.5 884 1737 886C1752.5 888 1776.5 891 1797 889C1817.5 887 1838.3 880.7 1860 874C1881.7 867.3 1915.8 853.2 1927 849" stroke-width="5"/>
<path d="M1530 890C1535 888 1545 881 1560 878C1575 875 1596.7 872.8 1620 872C1643.3 871.2 1686.7 872.8 1700 873" stroke-width="4"/>
<path d="M1532 902C1537.5 899.7 1549.5 891.3 1565 888C1580.5 884.7 1602.2 883.2 1625 882C1647.8 880.8 1689.2 881.2 1702 881" stroke-width="4"/>
<path d="M1704 875C1709.5 870.3 1728 859.7 1737 847C1746 834.3 1752 816 1758 799C1764 782 1766.5 760.3 1773 745C1779.5 729.7 1787 717.2 1797 707C1807 696.8 1827 687.8 1833 684"/>
<path d="M1704 878C1708.5 880.8 1723 887.3 1731 895C1739 902.7 1743.5 914.7 1752 924C1760.5 933.3 1769.5 944.5 1782 951C1794.5 957.5 1812.7 962 1827 963C1841.3 964 1854.3 961.7 1868 957C1881.7 952.3 1902.2 938.7 1909 935"/>
<path d="M1528 972C1538 968.5 1568 956 1588 951C1608 946 1628.2 942.5 1648 942C1667.8 941.5 1687.2 944.5 1707 948C1726.8 951.5 1746 957 1767 963C1788 969 1822 980.5 1833 984"/>
<path d="M1472 1008C1476.3 1005 1489.7 1000 1498 990C1506.3 980 1517 962.5 1522 948C1527 933.5 1527 910.5 1528 903"/>
<path d="M1469 980L1476 1000"/>
<path d="M1522 890C1522 911.7 1522.5 983.3 1522 1020C1521.5 1056.7 1519 1085.2 1519 1110C1519 1134.8 1520 1151.7 1522 1169C1524 1186.3 1527 1203.5 1531 1214C1535 1224.5 1541.5 1229 1546 1232C1550.5 1235 1555.5 1234.5 1558 1232C1560.5 1229.5 1560.5 1219.5 1561 1217" stroke-width="4.5"/>
<path d="M1516 1010C1515.8 1031.5 1514.7 1100.5 1515 1139C1515.3 1177.5 1517.5 1224 1518 1241" stroke-width="3.5"/>
<path d="M1267 1236C1289.2 1236.7 1357.8 1240 1400 1240C1442.2 1240 1494 1236.7 1520 1236C1546 1235.3 1550 1236 1556 1236" stroke-width="4"/>
<path d="M1267 1246C1289.2 1247 1351.8 1252 1400 1252C1448.2 1252 1530 1247 1556 1246" stroke-width="4"/>
<path d="M1280 1256L1500 1256" stroke-width="3.5"/>
<path d="M1290 1232L1420 1210" stroke-width="3.5"/>
<path d="M1380 1262C1381.7 1266.7 1389.2 1277 1390 1290C1390.8 1303 1385.8 1331.7 1385 1340" stroke-width="4"/>
<path d="M1398 1262C1396.3 1266.7 1391.7 1277.7 1388 1290C1384.3 1302.3 1378 1328.3 1376 1336" stroke-width="4"/>
<path d="M1970 1075C1962 1077.8 1940 1085.8 1922 1092C1904 1098.2 1878.3 1104.7 1862 1112C1845.7 1119.3 1833.3 1126.5 1824 1136C1814.7 1145.5 1811 1158.5 1806 1169C1801 1179.5 1798 1189.5 1794 1199C1790 1208.5 1785.5 1216 1782 1226C1778.5 1236 1775 1246.2 1773 1259C1771 1271.8 1771 1290.7 1770 1303C1769 1315.3 1770 1323.5 1767 1333C1764 1342.5 1761 1351.5 1752 1360C1743 1368.5 1726.8 1377 1713 1384C1699.2 1391 1683.8 1397.5 1669 1402C1654.2 1406.5 1638 1409 1624 1411C1610 1413 1591.5 1413.5 1585 1414"/>
<path d="M1988 1208C1979.5 1207 1955.5 1203.5 1937 1202C1918.5 1200.5 1895.8 1200 1877 1199C1858.2 1198 1837.8 1195.5 1824 1196C1810.2 1196.5 1801.5 1197.5 1794 1202C1786.5 1206.5 1783 1213.5 1779 1223C1775 1232.5 1772.5 1248 1770 1259C1767.5 1270 1767 1279.2 1764 1289C1761 1298.8 1756.5 1308.7 1752 1318C1747.5 1327.3 1743.5 1336 1737 1345C1730.5 1354 1722 1364 1713 1372C1704 1380 1695.3 1387 1683 1393C1670.7 1399 1655.3 1404 1639 1408C1622.7 1412 1594 1415.5 1585 1417"/>
<path d="M1952 1214C1942 1212.7 1911.8 1207.5 1892 1206C1872.2 1204.5 1848.3 1203.2 1833 1205C1817.7 1206.8 1808 1212 1800 1217C1792 1222 1790.5 1226.5 1785 1235C1779.5 1243.5 1772 1257.2 1767 1268C1762 1278.8 1759 1289.7 1755 1300C1751 1310.3 1747.5 1320.5 1743 1330C1738.5 1339.5 1735.5 1347.5 1728 1357C1720.5 1366.5 1710.3 1378 1698 1387C1685.7 1396 1672.8 1404.5 1654 1411C1635.2 1417.5 1596.5 1423.5 1585 1426"/>
<path d="M1937 1211C1924.5 1211 1882.8 1209 1862 1211C1841.2 1213 1824.3 1218 1812 1223C1799.7 1228 1797 1231.5 1788 1241C1779 1250.5 1765.5 1267.2 1758 1280C1750.5 1292.8 1747.5 1306.7 1743 1318C1738.5 1329.3 1736 1338 1731 1348C1726 1358 1723.3 1368 1713 1378C1702.7 1388 1683.8 1399.5 1669 1408C1654.2 1416.5 1638 1423 1624 1429C1610 1435 1591.5 1441.5 1585 1444"/>
<path d="M1470 1594C1485 1589.2 1539.2 1574.8 1560 1565C1580.8 1555.2 1586.8 1546.2 1595 1535C1603.2 1523.8 1601.7 1509.2 1609 1498C1616.3 1486.8 1624.2 1478 1639 1468C1653.8 1458 1678.2 1445.8 1698 1438C1717.8 1430.2 1743 1423.5 1758 1421C1773 1418.5 1773 1418.2 1788 1423C1803 1427.8 1817.3 1434 1848 1450C1878.7 1466 1951.3 1507.5 1972 1519" stroke-width="3.5" stroke="#6a6a6a"/>
<path d="M1583 1461L1610 1499" stroke-width="3.5" stroke="#6a6a6a"/>
<path d="M1375 1472L1484 1621" stroke-width="3.2"/>
<path d="M1386 1468L1492 1612" stroke-width="3.2"/>
<path d="M1315 1490C1320.8 1487 1335.8 1476.3 1350 1472C1364.2 1467.7 1391.7 1465.3 1400 1464"/>
<path d="M1315 1500C1321.2 1497.8 1338.2 1489.8 1352 1487C1365.8 1484.2 1381.3 1481.8 1398 1483C1414.7 1484.2 1431.7 1491.7 1452 1494C1472.3 1496.3 1508.7 1496.5 1520 1497"/>
<path d="M1275 1535C1279.2 1534.5 1292.8 1534.2 1300 1532C1307.2 1529.8 1315 1523.7 1318 1522"/>
<path d="M749 1413C742 1413.5 721.5 1412.2 707 1416C692.5 1419.8 679.3 1426.7 662 1436C644.7 1445.3 625.3 1463 603 1472C580.7 1481 548 1484.5 528 1490C508 1495.5 494.3 1497.5 483 1505C471.7 1512.5 466.3 1522 460 1535C453.7 1548 449.5 1564.7 445 1583C440.5 1601.3 438 1625.5 433 1645C428 1664.5 420 1681 415 1700C410 1719 408 1740.2 403 1759C398 1777.8 394 1800.5 385 1813C376 1825.5 365.2 1830.3 349 1834C332.8 1837.7 298.2 1834.8 288 1835"/>
<path d="M495 1645C495.5 1632.2 497 1588.3 498 1568C499 1547.7 497.5 1533.5 501 1523C504.5 1512.5 512 1506.5 519 1505C526 1503.5 536.5 1508.5 543 1514C549.5 1519.5 555.5 1521.2 558 1538C560.5 1554.8 533.2 1601.8 558 1615C582.8 1628.2 677.2 1620.8 707 1617C736.8 1613.2 727 1597.2 737 1592C747 1586.8 755 1587 767 1586C779 1585 802 1586 809 1586"/>
<path d="M504 1645C504.5 1626.2 504 1553.8 507 1532C510 1510.2 516.5 1515 522 1514C527.5 1513 535.5 1517 540 1526C544.5 1535 547 1554.2 549 1568C551 1581.8 550 1600.2 552 1609C554 1617.8 534.2 1619 561 1621C587.8 1623 682.2 1625.3 713 1621C743.8 1616.7 730 1599.8 746 1595C762 1590.2 798.5 1592.5 809 1592"/>
<path d="M746 1381C745.5 1387.2 743 1401.8 743 1418C743 1434.2 743 1463 746 1478C749 1493 755 1500 761 1508C767 1516 778 1516 782 1526C786 1536 786 1553.7 785 1568C784 1582.3 779 1599.2 776 1612C773 1624.8 771 1635.8 767 1645C763 1654.2 762 1661.8 752 1667C742 1672.2 724.3 1675 707 1676C689.7 1677 667.8 1676 648 1673C628.2 1670 608 1662 588 1658C568 1654 544.5 1652 528 1649C511.5 1646 498.8 1640 489 1640C479.2 1640 478.3 1645 469 1649C459.7 1653 442 1655.5 433 1664C424 1672.5 418 1694 415 1700"/>
<path d="M746 1381C749.5 1384.3 760.5 1394.8 767 1401C773.5 1407.2 778 1412.2 785 1418C792 1423.8 805 1433 809 1436"/>
<path d="M692 1520C695.5 1521.5 704 1527 713 1529C722 1531 734 1532 746 1532C758 1532 778.5 1529.5 785 1529"/>
<path d="M809 1413C806 1414.8 793.5 1418.2 791 1424C788.5 1429.8 791 1442 794 1448C797 1454 806.5 1458 809 1460"/>
<path d="M809 1472C806.5 1474 796 1479 794 1484C792 1489 794.5 1498 797 1502C799.5 1506 807 1507 809 1508"/>
<path d="M808 1540C805.8 1543.3 796.3 1551.7 795 1560C793.7 1568.3 797.5 1581.7 800 1590C802.5 1598.3 808.3 1606.7 810 1610"/>
<path d="M495 1645C490.8 1645.5 479.2 1645.5 470 1648C460.8 1650.5 448.3 1653 440 1660C431.7 1667 425.7 1672.5 420 1690C414.3 1707.5 410.3 1742.5 406 1765C401.7 1787.5 400.5 1811.5 394 1825C387.5 1838.5 384.7 1842.5 367 1846C349.3 1849.5 301.2 1846 288 1846"/>
<path d="M409 1645C407 1649.2 400 1658.3 397 1670C394 1681.7 394 1699.2 391 1715C388 1730.8 384 1754.2 379 1765C374 1775.8 369.5 1777.2 361 1780C352.5 1782.8 341.2 1780.5 328 1782C314.8 1783.5 289.7 1787.8 282 1789"/>
<path d="M424 1640C421.5 1646 412.5 1662 409 1676C405.5 1690 406 1708.7 403 1724C400 1739.3 396.5 1754.2 391 1768C385.5 1781.8 379.5 1798 370 1807C360.5 1816 346 1819 334 1822C322 1825 306.7 1826.2 298 1825C289.3 1823.8 284.7 1816.7 282 1815"/>
<path d="M384 1600C383.3 1616.7 380.5 1666.7 380 1700C379.5 1733.3 380.8 1783.3 381 1800"/>
<path d="M382 1801C385.5 1802 397 1803 403 1807C409 1811 414.8 1815.5 418 1825C421.2 1834.5 421.8 1845.2 422 1864C422.2 1882.8 418.2 1919.2 419 1938C419.8 1956.8 421.2 1966 427 1977C432.8 1988 442.2 1998.8 454 2004C465.8 2009.2 465.7 2007.8 498 2008C530.3 2008.2 596.2 2004.5 648 2005C699.8 2005.5 782.2 2010 809 2011"/>
<path d="M788 1767L809 1759"/>
<path d="M759 1829C762.8 1829.3 774.2 1831.7 782 1831C789.8 1830.3 802 1826 806 1825"/>
<path d="M835 1392C845.2 1390 878.2 1384.3 896 1380C913.8 1375.7 927.7 1369.8 942 1366C956.3 1362.2 971.3 1356.5 982 1357C992.7 1357.5 1002 1367 1006 1369"/>
<path d="M835 1404C845.8 1402.3 879.2 1399.3 900 1394C920.8 1388.7 945.8 1377.3 960 1372C974.2 1366.7 980.8 1363.7 985 1362"/>
<path d="M942 1432C948.7 1428.2 968 1416.7 982 1409C996 1401.3 1006.7 1390.8 1026 1386C1045.3 1381.2 1071.5 1380.5 1098 1380C1124.5 1379.5 1164.2 1381 1185 1383C1205.8 1385 1216.7 1390.5 1223 1392"/>
<path d="M1110 1401C1122.5 1401.8 1166.2 1403.7 1185 1406C1203.8 1408.3 1216.7 1413.5 1223 1415" stroke-width="7"/>
<path d="M1055 1422C1062.5 1424.2 1082.5 1434 1100 1435C1117.5 1436 1139.5 1432.2 1160 1428C1180.5 1423.8 1212.5 1413 1223 1410"/>
<path d="M840 1470C850 1471.7 883 1478.7 900 1480C917 1481.3 935 1478.3 942 1478"/>
<path d="M840 1530C850 1528.3 883 1520.8 900 1520C917 1519.2 935 1524.2 942 1525"/>
<path d="M840 1425C846.7 1423.3 865 1419.2 880 1415C895 1410.8 918.3 1405.8 930 1400C941.7 1394.2 946.7 1383.3 950 1380" stroke-width="6"/>
<path d="M820 2090C819.2 2095.8 823.3 2112.3 815 2125C806.7 2137.7 777.5 2159.2 770 2166" stroke-width="5"/>
<path d="M825 2094C826.2 2095.7 827.8 2102.2 832 2104C836.2 2105.8 820.3 2104.8 850 2105C879.7 2105.2 979.2 2103.8 1010 2105C1040.8 2106.2 1029.5 2106.2 1035 2112C1040.5 2117.8 1041.3 2131 1043 2140C1044.7 2149 1044.7 2161.7 1045 2166"/>
<path d="M828 2088C829.3 2089.3 830.7 2094.3 836 2096C841.3 2097.7 829.3 2097.7 860 2098C890.7 2098.3 988.7 2096.7 1020 2098C1051.3 2099.3 1042 2099.8 1048 2106C1054 2112.2 1056.3 2125 1056 2135C1055.7 2145 1047.7 2160.8 1046 2166"/>
</g>

<g id="left-labels">
<g fill="#fdf0dc" opacity=".8">
<rect x="1295.5" y="861.5" width="149" height="130"/>
<rect x="940.5" y="1453.5" width="334" height="102"/>
<rect x="1341" y="1333" width="245" height="128"/>
<rect x="837" y="1021" width="370" height="133"/>
<rect x="836" y="1724" width="373" height="128"/>
</g>
<rect class="or" x="839" y="1023" width="366" height="129"/>
<rect class="or" x="1298" y="864" width="144" height="125"/>
<rect class="or" x="943" y="1456" width="329" height="97"/>
<rect class="or" x="1343.5" y="1335.5" width="240" height="123"/>
<rect class="or" x="838" y="1726" width="369" height="124"/>
<text x="978" y="1208" font-size="62" font-weight="bold" fill="#fff" textLength="238" lengthAdjust="spacingAndGlyphs">COURTYARD</text>
<g class="lbl" font-size="61">
<text x="890" y="1108" textLength="242" lengthAdjust="spacingAndGlyphs">COURTYARD</text>
<text x="1316" y="948" textLength="100" lengthAdjust="spacingAndGlyphs">CAFE</text>
<text x="995.5" y="1525" textLength="215" lengthAdjust="spacingAndGlyphs">COMMONS</text>
<text x="1370" y="1420" textLength="170" lengthAdjust="spacingAndGlyphs">LIBRARY</text>
<text x="897" y="1809.5" textLength="242" lengthAdjust="spacingAndGlyphs">COURTYARD</text>
</g>
</g>

<g id="right-plan">
<path fill="#fff" d="M2150 707H2367V752H2386V808H2436V894H2532V810H3031V844H3045V791H3140V768H3156V733H3190V820H3344V783H3806V972H3479V1103H3705V1294H3381V1354H3418V1530H3050V1555H3153V1928H3058V2050H2600V2026H2376V1996H2234V1662H2297V1621H2281V1447H2265V1431H2281V1364H2263V1249H2333V1157H2194V810H2150Z"/>
<path fill="#f5f5f5" d="M2150 707H2367V1157H2194V810H2150Z"/>
<path fill="#fafafa" d="M2367 752H2386V808H2436V985H2590V1229H2333V1157H2367Z"/>
<path fill="none" stroke="#dcdcdc" stroke-width="2" d="M2267 803V1157M2194 807H2367M2267 905H2367M2267 985H2367M2243 1040H2347M2204 961H2243V1080H2204M2275 920h85v60h-85zM2270 990h78v48h-78zM2243 961V1040M2194 820H2267M2330 1100h20v14h-20zM2391 1152H2563V1219H2391ZM2432 1152V1219M2532 1152V1219M2340 1180H2391M2340 1219H2391M2333 1180V1229M2381 1000V1100M2381 1100H2436M2400 1110h36v12h-36z"/>
<path fill="#fff" stroke="#d5d5d5" stroke-width="1.5" d="M2381 822H2432V894H2381Z"/>
<path fill="none" stroke="#dedede" stroke-width="1.5" d="M2390 835V890M2399 835V890M2408 835V890M2417 835V890M2426 835V890M2385 850H2430M2385 865H2430M2385 880H2430"/>
<path class="yel" d="M2535 812H3028V873H2600V892H2535Z"/>
<path class="yel" d="M2625 899H3025V974H2625Z"/>
<path class="yel" d="M2434 915H2597V984H2434Z"/>
<path class="yel" d="M3048 795H3143V771H3159V736H3187V823H3344V871H3048Z"/>
<path class="yel" d="M3365 788H3802V871H3365Z"/>
<path class="yel" d="M3113 901H3346V984H3113Z"/>
<path class="yel" d="M3365 899H3461V1272H3365Z"/>
<path class="yel" d="M3481 899H3722V966H3481Z"/>
<path fill="url(#py2)" d="M3481 1107H3702V1247H3606V1272H3481Z"/>
<path class="yel" d="M3061 1354H3355V1427H3061Z"/>
<path class="yel" d="M3124 1451H3414V1524H3124Z"/>
<path fill="url(#py2)" d="M3382 1361H3414V1427H3382Z"/>
<path class="yel" d="M3057 1558H3150V1926H3057Z"/>
<path class="yel" d="M2629 1904H3022V1938H2629Z"/>
<path class="yel" d="M2629 1963H3049V2048H2629Z"/>
<path fill="none" stroke="#cdb572" stroke-width="2" d="M2583 814V871M2627 814V871M2664 814V871M2697 814V871M2730 814V871M2780 814V871M2830 814V871M2876 814V871M2920 814V871M2965 814V871M3000 814V871M2660 901V972M2700 901V972M2745 901V972M2790 901V972M2838 901V972M2880 901V972M2925 901V972M2960 901V972M2995 901V972M2625 912H3025M2455 917V982M2478 917V982M2560 917V982M2575 917V982M2434 955H2478M3080 823V869M3110 823V869M3143 823V869M3187 823V869M3230 823V869M3285 823V869M3143 795V823M3437 790V869M3490 790V869M3530 790V869M3570 790V869M3630 790V869M3700 790V869M3740 790V869M3166 903V982M3270 903V982M3290 903V982M3318 903V982M3365 935H3461M3365 968H3461M3365 1060H3461M3365 1140H3461M3365 1225H3461M3412 899V968M3527 901V964M3610 901V964M3660 901V964M3525 1109V1140M3570 1109V1140M3600 1109V1140M3481 1140H3600M3481 1195H3702M3570 1195V1270M3606 1195V1247M3147 1356V1425M3170 1356V1425M3245 1356V1425M3315 1356V1425M3160 1453V1522M3240 1453V1522M3320 1453V1522M3057 1610H3150M3057 1660H3150M3057 1700H3150M3057 1740H3150M3057 1800H3150M3057 1850H3150M3057 1890H3150M2700 1906V1936M2770 1906V1936M2840 1906V1936M2900 1906V1936M2960 1906V1936M2695 1965V2046M2760 1965V2046M2825 1965V2046M2880 1965V2046M2945 1965V2046M3010 1965V2046M2629 1975H3049"/>
<rect x="2740" y="857" width="22" height="14" fill="#cbb066" opacity=".8"/>
<rect x="3011" y="814" width="16" height="24" fill="#cbb066" opacity=".8"/>
<rect x="2443" y="930" width="24" height="38" fill="#cbb066" opacity=".8"/>
<rect x="3370" y="905" width="14" height="14" fill="#cbb066" opacity=".8"/>
<rect x="3370" y="1248" width="12" height="14" fill="#cbb066" opacity=".8"/>
<path fill="#abb78d" d="M3093 1005H3346V1213H3093L3075 1147V1075Z"/>
<path fill="none" stroke="#9aa77c" stroke-width="2" d="M3266 1005V1213M3093 1190H3346M3190 1005L3250 1020L3255 1012"/>
<path fill="#d9dadc" d="M2436 985H2590V1137H2515V1130H2460V1137H2450L2436 1118Z"/>
<path fill="none" stroke="#c3c4c6" stroke-width="2" d="M2505 990V1137M2436 985H2590M2470 1060v50M2490 1060v50"/>
<rect fill="url(#pdk)" x="2381" y="915" width="53" height="64"/>
<path fill="#fafafa" d="M2400 915h17v27h-17z"/>
<rect fill="url(#pg)" x="3090" y="1222" width="161" height="52"/>
<rect fill="url(#pg)" x="3264" y="1222" width="93" height="52"/>
<path fill="none" stroke="#b5b5b5" stroke-width="2" d="M3120 1222V1274M3160 1222V1274M3200 1222V1274M3230 1222V1274M3290 1222V1274M3320 1222V1274M3090 1250H3251"/>
<path fill="#d6d6d6" d="M3090 1433H3357V1408H3369V1451H3122V1490H3090Z"/>
<rect fill="url(#pg)" x="3619" y="1250" width="30" height="42"/>
<path fill="none" stroke="#d0d0d0" stroke-width="1.5" d="M3052 901h55v83h-55zM3060 910V975M3070 910V975M3080 910V975M3090 910V975M3100 910V975M3052 940H3107M3205 1292h95v48h-95zM3225 1292V1340M3245 1292V1340M3265 1292V1340M3285 1292V1340M3205 1308H3300M3205 1324H3300M3740 899h60v28h-60zM3745 930h45v36h-45zM3090 1290V1354M3350 1290V1354M3650 1250h50v40h-50z"/>
<path fill="url(#pb1)" d="M2337 1232H2590V1662H2300V1621H2284V1447H2268V1431H2284V1364H2267V1252H2337Z"/>
<rect fill="url(#pb2)" x="2237" y="1662" width="360" height="334"/>
<rect fill="#a9a797" opacity=".25" x="2335" y="1662" width="215" height="230"/>
<rect fill="#efeee4" x="2376" y="1996" width="224" height="28" opacity=".7"/>
<path fill="none" stroke="#a8a697" stroke-width="2" opacity=".8" d="M2400 1430h120M2420 1480v40M2470 1470v50M2500 1500h40M2360 1760h20M2410 1790h50M2480 1795h40M2340 1905H2590M2350 1930h30v30h-30zM2400 1925h25v40h-25zM2450 1930h40v25h-40zM2510 1920h30v45h-30zM2340 1970H2590M2440 1905V1990M2560 1905V1990"/>
<path fill="none" stroke="#e9e7da" stroke-width="3" opacity=".9" d="M2330 1900H2597M2330 1900V1996"/>
<rect x="1905" y="1699" width="230" height="164" fill="url(#pb1)"/>
<rect x="1997" y="1699" width="138" height="164" fill="url(#pb2)" opacity=".85"/>
<path fill="none" stroke="#9a9888" stroke-width="2" d="M2095 1730h35v22h-35zM2095 1760h35v30h-35zM2100 1800h30v18h-30z"/>
<rect x="1905" y="1699" width="230" height="164" fill="none" stroke="#1e1e1e" stroke-width="5"/>
<text x="2247" y="761" font-size="8" fill="#9a9a9a">Auto Shop</text>
<text x="2197" y="792" font-size="8" fill="#9a9a9a">Auto Office</text>
<text x="2281" y="882" font-size="8" fill="#9a9a9a">Art Shop</text>
<text x="2279" y="917" font-size="8" fill="#9a9a9a">Art Office</text>
<text x="2307" y="945" font-size="8" fill="#9a9a9a">Art</text>
<text x="2307" y="955" font-size="8" fill="#9a9a9a">Classroom</text>
<text x="2204" y="996" font-size="8" fill="#9a9a9a">Storage</text>
<text x="2204" y="1017" font-size="8" fill="#9a9a9a">Wood</text>
<text x="2204" y="1027" font-size="8" fill="#9a9a9a">Storage</text>
<text x="2245" y="1027" font-size="8" fill="#9a9a9a">Wood Office</text>
<text x="2255" y="1108" font-size="8" fill="#9a9a9a">Wood Shop</text>
<text x="2295" y="1123" font-size="8" fill="#9a9a9a">Wood</text>
<text x="2295" y="1134" font-size="8" fill="#9a9a9a">Equipment</text>
<text x="2295" y="1145" font-size="8" fill="#9a9a9a">Storage</text>
<text x="2393" y="819" font-size="8" fill="#9a9a9a">Auto</text>
<text x="2393" y="830" font-size="8" fill="#9a9a9a">Classroom</text>
<text x="2498" y="1034" font-size="8" fill="#9a9a9a">Kitchen/Servery</text>
<text x="2403" y="1146" font-size="8" fill="#9a9a9a">Crafts Office</text>
<text x="2345" y="1200" font-size="8" fill="#9a9a9a">Custodial</text>
<text x="2468" y="1200" font-size="8" fill="#9a9a9a">Boiler Room</text>
<text x="2376" y="1082" font-size="8" fill="#9a9a9a">Crafts</text>
<text x="2376" y="1093" font-size="8" fill="#9a9a9a">Classroom</text>
<text x="2496" y="932" font-size="8" fill="#9a9a9a">Art Studio</text>
<text x="2413" y="1215" font-size="8" fill="#9a9a9a" transform="rotate(-90 2413 1215)">Boiler Room</text>
<text x="2550" y="1212" font-size="8" fill="#9a9a9a" transform="rotate(-90 2550 1212)">Corridor</text>
<text x="2648" y="870" font-size="8" fill="#b09a5a">Classroom</text>
<text x="2905" y="868" font-size="8" fill="#b09a5a">Library</text>
<text x="2955" y="868" font-size="8" fill="#b09a5a">Classroom</text>
<text x="3010" y="868" font-size="8" fill="#b09a5a">Corridor</text>
<text x="2690" y="916" font-size="8" fill="#b09a5a">Classroom</text>
<text x="2890" y="916" font-size="8" fill="#b09a5a">Classroom</text>
<text x="2950" y="916" font-size="8" fill="#b09a5a">Classroom</text>
<text x="2745" y="952" font-size="8" fill="#b09a5a">Corridor</text>
<text x="3200" y="866" font-size="8" fill="#b09a5a">Classroom</text>
<text x="3280" y="866" font-size="8" fill="#b09a5a">Classroom</text>
<text x="3395" y="800" font-size="8" fill="#b09a5a">Graphic</text>
<text x="3395" y="812" font-size="8" fill="#b09a5a">Production</text>
<text x="3395" y="824" font-size="8" fill="#b09a5a">Classroom</text>
<text x="3470" y="824" font-size="8" fill="#b09a5a">Photo</text>
<text x="3470" y="836" font-size="8" fill="#b09a5a">Studio</text>
<text x="3580" y="824" font-size="8" fill="#b09a5a">Photo</text>
<text x="3640" y="812" font-size="8" fill="#b09a5a">Art Lab</text>
<text x="3640" y="824" font-size="8" fill="#b09a5a">Classroom</text>
<text x="3740" y="800" font-size="8" fill="#b09a5a">Art Lab</text>
<text x="3130" y="935" font-size="8" fill="#b09a5a">Drama</text>
<text x="3130" y="946" font-size="8" fill="#b09a5a">Storage</text>
<text x="3205" y="935" font-size="8" fill="#b09a5a">Drama</text>
<text x="3205" y="946" font-size="8" fill="#b09a5a">Classroom</text>
<text x="3395" y="1065" font-size="8" fill="#b09a5a">Orchestra</text>
<text x="3395" y="1120" font-size="8" fill="#b09a5a">Prac. area</text>
<text x="3395" y="1131" font-size="8" fill="#b09a5a">Storage</text>
<text x="3395" y="1185" font-size="8" fill="#b09a5a">Choir</text>
<text x="3395" y="1196" font-size="8" fill="#b09a5a">Classroom</text>
<text x="3530" y="925" font-size="8" fill="#b09a5a">Music</text>
<text x="3530" y="936" font-size="8" fill="#b09a5a">Studio</text>
<text x="3640" y="920" font-size="8" fill="#b09a5a">Music</text>
<text x="3640" y="931" font-size="8" fill="#b09a5a">Technology</text>
<text x="3620" y="1128" font-size="8" fill="#b09a5a">Band</text>
<text x="3600" y="1170" font-size="8" fill="#b09a5a">Instrument</text>
<text x="3600" y="1181" font-size="8" fill="#b09a5a">Storage</text>
<text x="3500" y="1228" font-size="8" fill="#b09a5a">MP Studio</text>
<text x="3555" y="1228" font-size="8" fill="#b09a5a">PT Bay</text>
<text x="3160" y="1120" font-size="8" fill="#b09a5a">Auditorium</text>
<text x="3290" y="1120" font-size="8" fill="#b09a5a">Stage</text>
<text x="3162" y="1186" font-size="8" fill="#b09a5a">Scene</text>
<text x="3162" y="1197" font-size="8" fill="#b09a5a">Storage</text>
<text x="3292" y="1186" font-size="8" fill="#b09a5a">Dressing</text>
<text x="3292" y="1197" font-size="8" fill="#b09a5a">Room</text>
<text x="3120" y="1395" font-size="8" fill="#b09a5a">Classroom</text>
<text x="3180" y="1388" font-size="8" fill="#b09a5a">Media</text>
<text x="3180" y="1399" font-size="8" fill="#b09a5a">Classroom</text>
<text x="3270" y="1395" font-size="8" fill="#b09a5a">Keyboarding</text>
<text x="3325" y="1395" font-size="8" fill="#b09a5a">Work Room</text>
<text x="3170" y="1470" font-size="8" fill="#b09a5a">Business Off.</text>
<text x="3250" y="1470" font-size="8" fill="#b09a5a">Business Off.</text>
<text x="3330" y="1470" font-size="8" fill="#b09a5a">Business Off.</text>
<text x="3085" y="1620" font-size="8" fill="#b09a5a">LA Suite</text>
<text x="3085" y="1735" font-size="8" fill="#b09a5a">LA Comp.</text>
<text x="3085" y="1790" font-size="8" fill="#b09a5a">Mechanical</text>
<text x="3085" y="1905" font-size="8" fill="#b09a5a">Special Ed</text>
<text x="2650" y="1923" font-size="8" fill="#b09a5a">Classroom</text>
<text x="2730" y="1923" font-size="8" fill="#b09a5a">Classroom</text>
<text x="2860" y="1923" font-size="8" fill="#b09a5a">Classroom</text>
<text x="2980" y="1923" font-size="8" fill="#b09a5a">Mech</text>
<text x="2650" y="1980" font-size="8" fill="#b09a5a">Classroom</text>
<text x="2715" y="1980" font-size="8" fill="#b09a5a">Classroom</text>
<text x="2780" y="1980" font-size="8" fill="#b09a5a">Classroom</text>
<text x="2880" y="1980" font-size="8" fill="#b09a5a">Classroom</text>
<text x="2945" y="1980" font-size="8" fill="#b09a5a">Classroom</text>
<text x="3005" y="1980" font-size="8" fill="#b09a5a">Test Prep</text>
<text x="3065" y="890" font-size="8" fill="#8ba6b8">Conference</text>
<text x="3130" y="880" font-size="8" fill="#8ba6b8">Career</text>
<text x="3130" y="890" font-size="8" fill="#8ba6b8">Resource</text>
<text x="3350" y="890" font-size="8" fill="#8ba6b8">Data</text>
<text x="3385" y="890" font-size="8" fill="#8ba6b8">Custodial</text>
<text x="3435" y="878" font-size="8" fill="#8ba6b8">Personnel</text>
<text x="3435" y="888" font-size="8" fill="#8ba6b8">Room</text>
<text x="3555" y="886" font-size="8" fill="#8ba6b8">Mechanical</text>
<text x="3625" y="886" font-size="8" fill="#8ba6b8">Mechanical</text>
<text x="3535" y="1288" font-size="8" fill="#8ba6b8">Conference</text>
<text x="2955" y="795" font-size="8" fill="#8ba6b8">Roof Exit</text>
<text x="3020" y="861" font-size="8" fill="#8ba6b8">Corridor</text>
</g>

<g id="right-outline"><path class="out" stroke-linecap="square" d="M2150 707H2367V752H2386V808H2436V894H2532V810H3031V844H3045V791H3140V768H3156V733H3190V820H3344V783H3806V972H3479V1103H3705V1294H3381V1354H3418V1530H3053M3053 1555H3153V1928H3058V2050H2600V2026H2376V1996H2234V1662H2297V1621H2281V1447H2265V1431H2281V1364H2263V1249H2333V1157H2194V810H2150V707"/></g>

<g id="core">
<rect class="or" x="2588" y="973" width="468" height="926"/>
<rect x="2619" y="1005" width="404.5" height="861" fill="#fdf6e8"/>
<rect x="2636" y="1150" width="372" height="580" fill="#e9e7e4"/>
<rect x="3006" y="1160" width="10" height="690" fill="#e3e2e0"/>
<g fill="#fbfaf7">
<rect x="2850" y="1158" width="8" height="8"/><rect x="2880" y="1158" width="8" height="8"/><rect x="2910" y="1158" width="8" height="8"/><rect x="2940" y="1158" width="8" height="8"/><rect x="2970" y="1158" width="8" height="8"/><rect x="2996" y="1158" width="8" height="8"/>
<rect x="2660" y="1311" width="8" height="8"/><rect x="2690" y="1311" width="8" height="8"/><rect x="2720" y="1311" width="8" height="8"/><rect x="2750" y="1311" width="8" height="8"/><rect x="2790" y="1311" width="8" height="8"/><rect x="2830" y="1311" width="8" height="8"/><rect x="2990" y="1311" width="8" height="8"/>
<rect x="2640" y="1535" width="366" height="10"/>
<rect x="2640" y="1707" width="80" height="12"/><rect x="2830" y="1707" width="176" height="8"/>
</g>
<rect class="or" x="2638" y="1022" width="368" height="131"/>
<rect class="or" x="2638" y="1171" width="368" height="134"/>
<rect class="or" x="2638" y="1326" width="368" height="205"/>
<rect class="or" x="2638" y="1556" width="368" height="147"/>
<rect class="or" x="2638" y="1727" width="368" height="123"/>
<path d="M2588 1413H3056" stroke="#d4701c" stroke-width="1.5" fill="none" opacity=".7"/>
<!-- arrow -->
<path d="M2817.5 634V2288" stroke="#4f7db3" stroke-width="8.5" fill="none"/>
<path d="M2792.5 676L2817.5 632L2842.5 676M2792.5 2245L2817.5 2290L2842.5 2245" stroke="#4a78ae" stroke-width="8" fill="none" stroke-linecap="round" stroke-linejoin="miter"/>
<path d="M2817.5 973V1899" stroke="#75839b" stroke-width="9.5" fill="none"/>
<g class="lbl" font-size="62" style="stroke-width:2">
<text x="2701" y="1112" textLength="241" lengthAdjust="spacingAndGlyphs">COURTYARD</text>
<text x="2709" y="1260" textLength="218" lengthAdjust="spacingAndGlyphs">CAFETERIA</text>
<text x="2712" y="1455" textLength="216" lengthAdjust="spacingAndGlyphs">COMMONS</text>
<text x="2730" y="1652" textLength="170" lengthAdjust="spacingAndGlyphs">LIBRARY</text>
<text x="2702" y="1812" textLength="243" lengthAdjust="spacingAndGlyphs">COURTYARD</text>
</g>
</g>

<g id="texts">
<g font-size="70">
<text x="2913" y="364" fill="#5b86b8" textLength="971" lengthAdjust="spacingAndGlyphs">TRANSPARENCY BETWEEN COURTYARDS</text>
<text x="2911" y="436" fill="#e8c24e" textLength="329" lengthAdjust="spacingAndGlyphs">CLASSROOMS</text>
<text x="2914" y="506" fill="#8c9552" textLength="456" lengthAdjust="spacingAndGlyphs">PERFORMING ARTS</text>
<text x="2913" y="578" fill="#8c8d5c" textLength="255" lengthAdjust="spacingAndGlyphs">ATHLETICS</text>
</g>
<text x="1193" y="2248" font-size="88" fill="#3a3a3a" textLength="544" lengthAdjust="spacingAndGlyphs">EXISTING DIAGRAM</text>
<text x="3487" y="2244" font-size="87" fill="#3a3a3a" textLength="303" lengthAdjust="spacingAndGlyphs">NEW CORE</text>
<g font-size="60" fill="#555">
<text x="3359" y="2071" textLength="20" lengthAdjust="spacingAndGlyphs">0</text>
<text x="3461" y="2071" textLength="45" lengthAdjust="spacingAndGlyphs">50</text>
<text x="3565" y="2071" textLength="67" lengthAdjust="spacingAndGlyphs">100</text>
</g>
<!-- compass -->
<g fill="none" stroke="#7a7a7a" stroke-width="3.5">
<circle cx="3421" cy="1861" r="59.5"/>
<path d="M3361 1861H3481M3421 1801V1921"/>
</g>
<rect x="3418" y="1802" width="15" height="58" fill="#8a8a8a"/>
<g fill="#8a8a8a">
<rect x="3367" y="1963" width="25" height="15"/>
<rect x="3394" y="1981" width="89" height="15"/>
<rect x="3486" y="1963" width="113" height="15"/>
</g>
</g>

</svg>
</body>
</html>
